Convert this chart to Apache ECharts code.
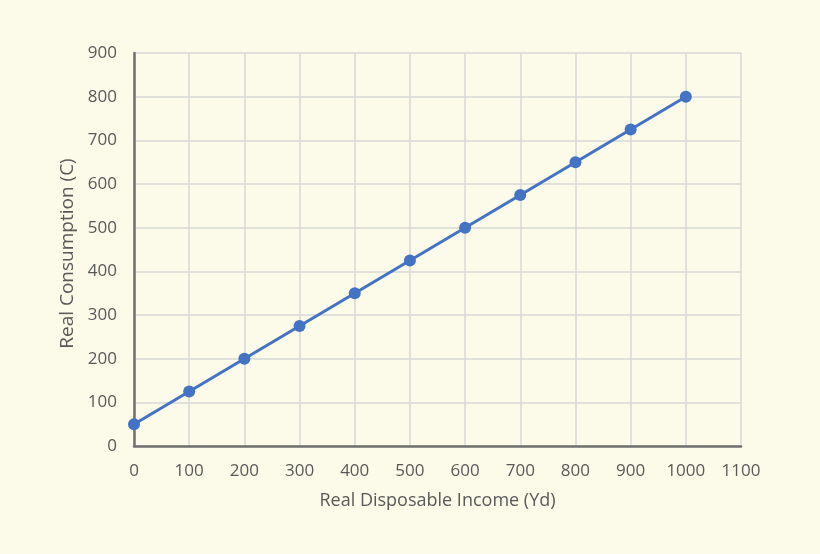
<!DOCTYPE html>
<html><head><meta charset="utf-8">
<script src="https://cdn.jsdelivr.net/npm/echarts@6/dist/echarts.min.js"></script>
<style>html,body{margin:0;padding:0;background:#FCFAE8;}#c{width:820px;height:554px;}</style>
</head><body><div id="c"></div>
<script>
const income = [0,100,200,300,400,500,600,700,800,900,1000];
const consumption = [50,125,200,275,350,425,500,575,650,725,800];
const chart = echarts.init(document.getElementById('c'));
const font = '"Open Sans", sans-serif';
chart.setOption({
  backgroundColor: '#FCFAE8',
  textStyle: {fontFamily: font},
  grid: {left:134, right:79, top:53, bottom:108},
  xAxis: {
    type:'value', min:0, max:1100, interval:100,
    name:'Real Disposable Income (Yd)', nameLocation:'middle', nameGap:46,
    nameTextStyle:{color:'#595959', fontSize:18, fontFamily:font},
    axisLine:{show:true, onZero:false, lineStyle:{color:'#707070', width:2.5}},
    axisTick:{show:false},
    axisLabel:{color:'#595959', fontSize:17, margin:17, fontFamily:font, formatter: v => String(v)},
    splitLine:{show:true, lineStyle:{color:'#D9D9D9', width:1.5}}
  },
  yAxis: {
    type:'value', min:0, max:900, interval:100,
    name:'Real Consumption (C)', nameLocation:'middle', nameGap:54,
    nameTextStyle:{color:'#595959', fontSize:19, fontFamily:font, padding:[0,8,0,0]},
    axisLine:{show:true, onZero:false, lineStyle:{color:'#707070', width:2.5}},
    axisTick:{show:false},
    axisLabel:{color:'#595959', fontSize:17, margin:17, fontFamily:font, formatter: v => String(v)},
    splitLine:{show:true, lineStyle:{color:'#D9D9D9', width:1.5}}
  },
  series: [{
    type:'line',
    data: income.map((x,i)=>[x, consumption[i]]),
    symbol:'circle', symbolSize:12,
    lineStyle:{color:'#4472C4', width:3},
    itemStyle:{color:'#4472C4'},
    animation:false
  }]
});
</script></body></html>
